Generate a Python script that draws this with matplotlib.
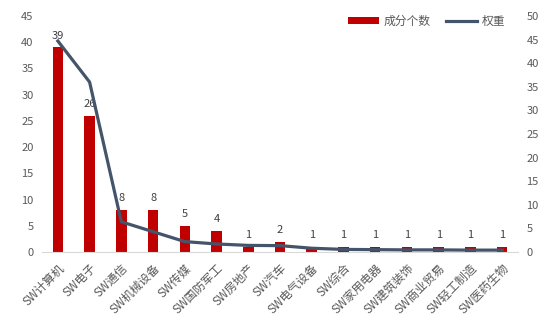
import matplotlib.pyplot as plt
import numpy as np

plt.rcParams['font.family'] = ['Noto Sans CJK SC', 'DejaVu Sans']

categories = ["SW计算机", "SW电子", "SW通信", "SW机械设备", "SW传媒", "SW国防军工",
              "SW房地产", "SW汽车", "SW电气设备", "SW综合", "SW家用电器", "SW建筑装饰",
              "SW商业贸易", "SW轻工制造", "SW医药生物"]
counts = [39, 26, 8, 8, 5, 4, 1, 2, 1, 1, 1, 1, 1, 1, 1]
weights = [44.7, 36.0, 6.4, 4.3, 2.2, 1.7, 1.4, 1.35, 0.8, 0.55, 0.5, 0.45, 0.45, 0.4, 0.4]

bar_color = "#C00000"
line_color = "#44546A"
text_color = "#595959"

fig = plt.figure(figsize=(5.53, 3.29), dpi=100)
ax = fig.add_axes([42 / 553, 1 - 252 / 329, 476 / 553, 236 / 329])
ax2 = ax.twinx()

x = np.arange(len(categories))
ax.bar(x, counts, width=0.33, color=bar_color, label="成分个数", zorder=2)
for xi, c in zip(x, counts):
    ax.text(xi, c + 1.3, str(c), ha="center", va="bottom", fontsize=8, color="#404040")

ax2.plot(x, weights, color=line_color, linewidth=2.3, label="权重", zorder=3)
ax2.set_zorder(ax.get_zorder() + 1)
ax2.patch.set_visible(False)

ax.set_xlim(-0.5, len(categories) - 0.5)
ax.set_ylim(0, 45)
ax.set_yticks(range(0, 46, 5))
ax2.set_ylim(0, 50)
ax2.set_yticks(range(0, 51, 5))

ax.set_xticks(x)
ax.set_xticklabels(categories, rotation=45, ha="right", rotation_mode="anchor",
                   fontsize=8.5, color=text_color)
for a in (ax, ax2):
    for s in a.spines.values():
        s.set_visible(False)
    a.tick_params(length=0, labelsize=8, colors=text_color)
ax.tick_params(axis="x", labelsize=8.5, pad=7)
ax.spines["bottom"].set_visible(True)
ax.spines["bottom"].set_color("#D9D9D9")
ax.tick_params(axis="y", pad=6)
ax2.tick_params(axis="y", pad=6)

h1, l1 = ax.get_legend_handles_labels()
h2, l2 = ax2.get_legend_handles_labels()
ax2.legend(h1 + h2, l1 + l2, loc="upper right", bbox_to_anchor=(0.995, 1.05), ncol=2,
           frameon=False, fontsize=8.5, handlelength=2.6, handleheight=0.5,
           handletextpad=0.4, columnspacing=1.3, labelcolor=text_color)

fig.savefig("out.png", dpi=100)
